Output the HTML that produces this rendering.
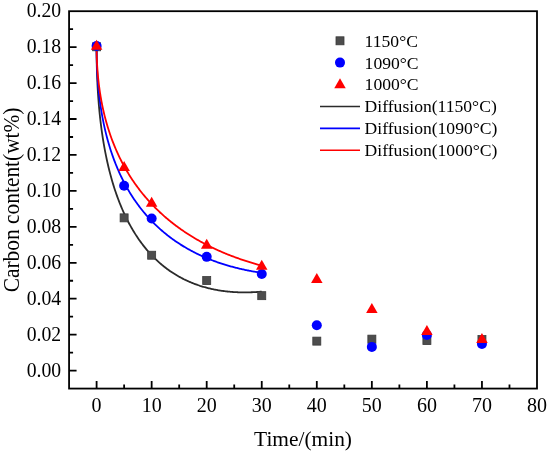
<!DOCTYPE html>
<html><head><meta charset="utf-8"><style>
html,body{margin:0;padding:0;background:#fff;}
svg{display:block;}
text{font-family:"Liberation Serif","Times New Roman",serif;fill:#000;}
</style></head><body>
<svg width="550" height="455" viewBox="0 0 550 455">
<rect width="550" height="455" fill="#fff"/>
<g fill="none" stroke-width="1.8" stroke-linejoin="round">
<path d="M96.60,48.45 L96.60,50.04 L96.61,51.63 L96.61,53.21 L96.63,54.79 L96.64,56.36 L96.66,57.92 L96.68,59.48 L96.70,61.04 L96.73,62.59 L96.76,64.13 L96.79,65.67 L96.83,67.21 L96.87,68.74 L96.91,70.26 L96.96,71.78 L97.00,73.29 L97.06,74.80 L97.11,76.30 L97.17,77.80 L97.23,79.29 L97.30,80.78 L97.37,82.26 L97.44,83.74 L97.51,85.21 L97.59,86.68 L97.67,88.14 L97.75,89.59 L97.84,91.04 L97.93,92.49 L98.02,93.93 L98.12,95.37 L98.22,96.80 L98.32,98.22 L98.43,99.64 L98.54,101.05 L98.65,102.46 L98.76,103.87 L98.88,105.27 L99.01,106.66 L99.13,108.05 L99.26,109.43 L99.39,110.81 L99.52,112.18 L99.66,113.55 L99.80,114.91 L99.95,116.27 L100.09,117.62 L100.24,118.97 L100.40,120.31 L100.55,121.64 L100.71,122.98 L100.88,124.30 L101.04,125.62 L101.21,126.94 L101.38,128.25 L101.56,129.55 L101.74,130.85 L101.92,132.15 L102.10,133.44 L102.91,138.74 L103.71,143.62 L104.51,148.17 L105.31,152.43 L106.12,156.44 L106.92,160.22 L107.72,163.81 L108.52,167.23 L109.33,170.49 L110.13,173.61 L110.93,176.59 L111.73,179.46 L112.53,182.22 L113.34,184.88 L114.14,187.44 L114.94,189.92 L115.74,192.31 L116.55,194.63 L117.35,196.87 L118.15,199.04 L118.95,201.16 L119.75,203.21 L120.56,205.20 L121.36,207.13 L122.16,209.02 L122.96,210.85 L123.77,212.64 L124.57,214.38 L125.37,216.08 L126.17,217.74 L126.97,219.35 L127.78,220.93 L128.58,222.47 L129.38,223.97 L130.18,225.44 L130.99,226.88 L131.79,228.29 L132.59,229.66 L133.39,231.00 L134.19,232.32 L135.00,233.61 L135.80,234.87 L136.60,236.10 L137.40,237.31 L138.21,238.49 L139.01,239.65 L139.81,240.79 L140.61,241.90 L141.41,242.99 L142.22,244.07 L143.02,245.11 L143.82,246.14 L144.62,247.15 L145.43,248.14 L146.23,249.11 L147.03,250.06 L147.83,251.00 L148.63,251.91 L149.44,252.81 L150.24,253.70 L151.04,254.56 L151.84,255.41 L152.65,256.25 L153.45,257.07 L154.25,257.87 L155.05,258.66 L155.85,259.43 L156.66,260.20 L157.46,260.94 L158.26,261.68 L159.06,262.40 L159.87,263.10 L160.67,263.80 L161.47,264.48 L162.27,265.15 L163.07,265.80 L163.88,266.45 L164.68,267.08 L165.48,267.70 L166.28,268.31 L167.09,268.91 L167.89,269.50 L168.69,270.08 L169.49,270.65 L170.30,271.21 L171.10,271.75 L171.90,272.29 L172.70,272.82 L173.50,273.33 L174.31,273.84 L175.11,274.34 L175.91,274.83 L176.71,275.31 L177.52,275.78 L178.32,276.24 L179.12,276.69 L179.92,277.14 L180.72,277.57 L181.53,278.00 L182.33,278.42 L183.13,278.83 L183.93,279.24 L184.74,279.63 L185.54,280.02 L186.34,280.40 L187.14,280.77 L187.94,281.14 L188.75,281.50 L189.55,281.85 L190.35,282.19 L191.15,282.52 L191.96,282.85 L192.76,283.18 L193.56,283.49 L194.36,283.80 L195.16,284.10 L195.97,284.40 L196.77,284.68 L197.57,284.97 L198.37,285.24 L199.18,285.51 L199.98,285.78 L200.78,286.03 L201.58,286.28 L202.38,286.53 L203.19,286.77 L203.99,287.00 L204.79,287.23 L205.59,287.45 L206.40,287.67 L207.20,287.88 L208.00,288.08 L208.80,288.28 L209.60,288.48 L210.41,288.67 L211.21,288.85 L212.01,289.03 L212.81,289.20 L213.62,289.37 L214.42,289.53 L215.22,289.69 L216.02,289.84 L216.82,289.99 L217.63,290.13 L218.43,290.27 L219.23,290.40 L220.03,290.53 L220.84,290.66 L221.64,290.78 L222.44,290.89 L223.24,291.00 L224.04,291.11 L224.85,291.21 L225.65,291.30 L226.45,291.40 L227.25,291.48 L228.06,291.57 L228.86,291.65 L229.66,291.72 L230.46,291.79 L231.27,291.86 L232.07,291.92 L232.87,291.98 L233.67,292.03 L234.47,292.08 L235.28,292.13 L236.08,292.17 L236.88,292.21 L237.68,292.24 L238.49,292.28 L239.29,292.30 L240.09,292.33 L240.89,292.34 L241.69,292.36 L242.50,292.37 L243.30,292.38 L244.10,292.39 L244.90,292.39 L245.71,292.38 L246.51,292.38 L247.31,292.37 L248.11,292.36 L248.91,292.34 L249.72,292.32 L250.52,292.30 L251.32,292.27 L252.12,292.24 L252.93,292.20 L253.73,292.17 L254.53,292.13 L255.33,292.09 L256.13,292.04 L256.94,291.99 L257.74,291.94 L258.54,291.88 L259.34,291.82 L260.15,291.76 L260.95,291.69 L261.75,291.62" stroke="#2b2b2b"/>
<path d="M96.60,47.79 L96.60,49.03 L96.61,50.27 L96.61,51.51 L96.63,52.74 L96.64,53.97 L96.66,55.20 L96.68,56.42 L96.70,57.64 L96.73,58.86 L96.76,60.07 L96.79,61.28 L96.83,62.48 L96.87,63.69 L96.91,64.89 L96.96,66.08 L97.00,67.27 L97.06,68.46 L97.11,69.65 L97.17,70.83 L97.23,72.01 L97.30,73.19 L97.37,74.36 L97.44,75.53 L97.51,76.69 L97.59,77.85 L97.67,79.01 L97.75,80.17 L97.84,81.32 L97.93,82.47 L98.02,83.61 L98.12,84.75 L98.22,85.89 L98.32,87.03 L98.43,88.16 L98.54,89.28 L98.65,90.41 L98.76,91.53 L98.88,92.65 L99.01,93.76 L99.13,94.87 L99.26,95.98 L99.39,97.08 L99.52,98.18 L99.66,99.28 L99.80,100.38 L99.95,101.47 L100.09,102.55 L100.24,103.64 L100.40,104.72 L100.55,105.79 L100.71,106.87 L100.88,107.94 L101.04,109.01 L101.21,110.07 L101.38,111.13 L101.56,112.18 L101.74,113.24 L101.92,114.29 L102.10,115.33 L102.91,119.64 L103.71,123.63 L104.51,127.36 L105.31,130.85 L106.12,134.15 L106.92,137.28 L107.72,140.25 L108.52,143.09 L109.33,145.81 L110.13,148.41 L110.93,150.92 L111.73,153.33 L112.53,155.65 L113.34,157.90 L114.14,160.07 L114.94,162.18 L115.74,164.22 L116.55,166.20 L117.35,168.12 L118.15,169.99 L118.95,171.81 L119.75,173.58 L120.56,175.30 L121.36,176.99 L122.16,178.63 L122.96,180.23 L123.77,181.80 L124.57,183.33 L125.37,184.83 L126.17,186.29 L126.97,187.72 L127.78,189.13 L128.58,190.50 L129.38,191.85 L130.18,193.16 L130.99,194.46 L131.79,195.73 L132.59,196.97 L133.39,198.19 L134.19,199.39 L135.00,200.56 L135.80,201.72 L136.60,202.85 L137.40,203.97 L138.21,205.06 L139.01,206.14 L139.81,207.20 L140.61,208.24 L141.41,209.26 L142.22,210.27 L143.02,211.26 L143.82,212.23 L144.62,213.19 L145.43,214.13 L146.23,215.06 L147.03,215.98 L147.83,216.88 L148.63,217.76 L149.44,218.64 L150.24,219.50 L151.04,220.34 L151.84,221.18 L152.65,222.00 L153.45,222.81 L154.25,223.61 L155.05,224.39 L155.85,225.17 L156.66,225.93 L157.46,226.69 L158.26,227.43 L159.06,228.16 L159.87,228.89 L160.67,229.60 L161.47,230.30 L162.27,231.00 L163.07,231.68 L163.88,232.35 L164.68,233.02 L165.48,233.68 L166.28,234.32 L167.09,234.96 L167.89,235.59 L168.69,236.21 L169.49,236.83 L170.30,237.43 L171.10,238.03 L171.90,238.62 L172.70,239.20 L173.50,239.78 L174.31,240.34 L175.11,240.90 L175.91,241.46 L176.71,242.00 L177.52,242.54 L178.32,243.07 L179.12,243.60 L179.92,244.11 L180.72,244.63 L181.53,245.13 L182.33,245.63 L183.13,246.12 L183.93,246.61 L184.74,247.09 L185.54,247.56 L186.34,248.03 L187.14,248.49 L187.94,248.94 L188.75,249.39 L189.55,249.84 L190.35,250.28 L191.15,250.71 L191.96,251.14 L192.76,251.56 L193.56,251.97 L194.36,252.39 L195.16,252.79 L195.97,253.19 L196.77,253.59 L197.57,253.98 L198.37,254.37 L199.18,254.75 L199.98,255.12 L200.78,255.50 L201.58,255.86 L202.38,256.22 L203.19,256.58 L203.99,256.93 L204.79,257.28 L205.59,257.63 L206.40,257.97 L207.20,258.30 L208.00,258.63 L208.80,258.96 L209.60,259.28 L210.41,259.60 L211.21,259.91 L212.01,260.22 L212.81,260.53 L213.62,260.83 L214.42,261.13 L215.22,261.42 L216.02,261.71 L216.82,262.00 L217.63,262.28 L218.43,262.56 L219.23,262.83 L220.03,263.10 L220.84,263.37 L221.64,263.63 L222.44,263.89 L223.24,264.15 L224.04,264.40 L224.85,264.65 L225.65,264.90 L226.45,265.14 L227.25,265.38 L228.06,265.62 L228.86,265.85 L229.66,266.08 L230.46,266.30 L231.27,266.53 L232.07,266.74 L232.87,266.96 L233.67,267.17 L234.47,267.38 L235.28,267.59 L236.08,267.79 L236.88,267.99 L237.68,268.19 L238.49,268.39 L239.29,268.58 L240.09,268.77 L240.89,268.95 L241.69,269.14 L242.50,269.32 L243.30,269.49 L244.10,269.67 L244.90,269.84 L245.71,270.01 L246.51,270.17 L247.31,270.34 L248.11,270.50 L248.91,270.65 L249.72,270.81 L250.52,270.96 L251.32,271.11 L252.12,271.26 L252.93,271.40 L253.73,271.54 L254.53,271.68 L255.33,271.82 L256.13,271.95 L256.94,272.09 L257.74,272.21 L258.54,272.34 L259.34,272.47 L260.15,272.59 L260.95,272.71 L261.75,272.82" stroke="#0000ff"/>
<path d="M96.60,45.82 L96.60,46.88 L96.61,47.94 L96.61,49.00 L96.63,50.05 L96.64,51.10 L96.66,52.15 L96.68,53.20 L96.70,54.24 L96.73,55.29 L96.76,56.33 L96.79,57.37 L96.83,58.40 L96.87,59.44 L96.91,60.47 L96.96,61.50 L97.00,62.53 L97.06,63.55 L97.11,64.58 L97.17,65.60 L97.23,66.62 L97.30,67.63 L97.37,68.65 L97.44,69.66 L97.51,70.67 L97.59,71.68 L97.67,72.68 L97.75,73.69 L97.84,74.69 L97.93,75.69 L98.02,76.68 L98.12,77.68 L98.22,78.67 L98.32,79.66 L98.43,80.65 L98.54,81.63 L98.65,82.61 L98.76,83.59 L98.88,84.57 L99.01,85.55 L99.13,86.52 L99.26,87.49 L99.39,88.46 L99.52,89.43 L99.66,90.40 L99.80,91.36 L99.95,92.32 L100.09,93.28 L100.24,94.23 L100.40,95.19 L100.55,96.14 L100.71,97.09 L100.88,98.03 L101.04,98.98 L101.21,99.92 L101.38,100.86 L101.56,101.80 L101.74,102.73 L101.92,103.67 L102.10,104.60 L102.91,108.44 L103.71,112.01 L104.51,115.34 L105.31,118.49 L106.12,121.47 L106.92,124.29 L107.72,126.99 L108.52,129.58 L109.33,132.05 L110.13,134.43 L110.93,136.73 L111.73,138.94 L112.53,141.09 L113.34,143.16 L114.14,145.17 L114.94,147.12 L115.74,149.02 L116.55,150.86 L117.35,152.65 L118.15,154.40 L118.95,156.11 L119.75,157.77 L120.56,159.40 L121.36,160.99 L122.16,162.54 L122.96,164.06 L123.77,165.55 L124.57,167.01 L125.37,168.44 L126.17,169.84 L126.97,171.21 L127.78,172.55 L128.58,173.88 L129.38,175.17 L130.18,176.45 L130.99,177.70 L131.79,178.93 L132.59,180.14 L133.39,181.33 L134.19,182.49 L135.00,183.65 L135.80,184.78 L136.60,185.89 L137.40,186.99 L138.21,188.07 L139.01,189.13 L139.81,190.18 L140.61,191.21 L141.41,192.23 L142.22,193.23 L143.02,194.22 L143.82,195.19 L144.62,196.16 L145.43,197.10 L146.23,198.04 L147.03,198.96 L147.83,199.87 L148.63,200.77 L149.44,201.66 L150.24,202.53 L151.04,203.39 L151.84,204.25 L152.65,205.09 L153.45,205.92 L154.25,206.74 L155.05,207.55 L155.85,208.36 L156.66,209.15 L157.46,209.93 L158.26,210.70 L159.06,211.47 L159.87,212.22 L160.67,212.97 L161.47,213.70 L162.27,214.43 L163.07,215.15 L163.88,215.87 L164.68,216.57 L165.48,217.27 L166.28,217.96 L167.09,218.64 L167.89,219.31 L168.69,219.98 L169.49,220.64 L170.30,221.29 L171.10,221.93 L171.90,222.57 L172.70,223.20 L173.50,223.83 L174.31,224.45 L175.11,225.06 L175.91,225.66 L176.71,226.26 L177.52,226.85 L178.32,227.44 L179.12,228.02 L179.92,228.59 L180.72,229.16 L181.53,229.73 L182.33,230.28 L183.13,230.83 L183.93,231.38 L184.74,231.92 L185.54,232.46 L186.34,232.99 L187.14,233.51 L187.94,234.03 L188.75,234.54 L189.55,235.05 L190.35,235.56 L191.15,236.06 L191.96,236.55 L192.76,237.04 L193.56,237.52 L194.36,238.00 L195.16,238.48 L195.97,238.95 L196.77,239.42 L197.57,239.88 L198.37,240.34 L199.18,240.79 L199.98,241.24 L200.78,241.68 L201.58,242.12 L202.38,242.56 L203.19,242.99 L203.99,243.42 L204.79,243.84 L205.59,244.26 L206.40,244.68 L207.20,245.09 L208.00,245.50 L208.80,245.90 L209.60,246.30 L210.41,246.70 L211.21,247.09 L212.01,247.48 L212.81,247.86 L213.62,248.25 L214.42,248.62 L215.22,249.00 L216.02,249.37 L216.82,249.74 L217.63,250.10 L218.43,250.46 L219.23,250.82 L220.03,251.17 L220.84,251.53 L221.64,251.87 L222.44,252.22 L223.24,252.56 L224.04,252.90 L224.85,253.23 L225.65,253.56 L226.45,253.89 L227.25,254.22 L228.06,254.54 L228.86,254.86 L229.66,255.18 L230.46,255.49 L231.27,255.80 L232.07,256.11 L232.87,256.41 L233.67,256.71 L234.47,257.01 L235.28,257.31 L236.08,257.60 L236.88,257.89 L237.68,258.18 L238.49,258.47 L239.29,258.75 L240.09,259.03 L240.89,259.30 L241.69,259.58 L242.50,259.85 L243.30,260.12 L244.10,260.39 L244.90,260.65 L245.71,260.91 L246.51,261.17 L247.31,261.43 L248.11,261.68 L248.91,261.93 L249.72,262.18 L250.52,262.43 L251.32,262.67 L252.12,262.91 L252.93,263.15 L253.73,263.39 L254.53,263.63 L255.33,263.86 L256.13,264.09 L256.94,264.32 L257.74,264.54 L258.54,264.77 L259.34,264.99 L260.15,265.21 L260.95,265.42 L261.75,265.64" stroke="#ff0000"/>
</g>
<rect x="92.60" y="42.78" width="8" height="8" fill="#4d4d4d" stroke="#3a3a3a" stroke-width="0.8"/>
<rect x="120.12" y="213.86" width="8" height="8" fill="#4d4d4d" stroke="#3a3a3a" stroke-width="0.8"/>
<rect x="147.65" y="251.23" width="8" height="8" fill="#4d4d4d" stroke="#3a3a3a" stroke-width="0.8"/>
<rect x="202.70" y="276.57" width="8" height="8" fill="#4d4d4d" stroke="#3a3a3a" stroke-width="0.8"/>
<rect x="257.75" y="291.67" width="8" height="8" fill="#4d4d4d" stroke="#3a3a3a" stroke-width="0.8"/>
<rect x="312.80" y="337.13" width="8" height="8" fill="#4d4d4d" stroke="#3a3a3a" stroke-width="0.8"/>
<rect x="367.85" y="335.15" width="8" height="8" fill="#4d4d4d" stroke="#3a3a3a" stroke-width="0.8"/>
<rect x="422.90" y="336.59" width="8" height="8" fill="#4d4d4d" stroke="#3a3a3a" stroke-width="0.8"/>
<rect x="477.95" y="335.51" width="8" height="8" fill="#4d4d4d" stroke="#3a3a3a" stroke-width="0.8"/>
<circle cx="96.60" cy="46.06" r="5" fill="#0000ff"/>
<circle cx="124.12" cy="185.69" r="5" fill="#0000ff"/>
<circle cx="151.65" cy="218.57" r="5" fill="#0000ff"/>
<circle cx="206.70" cy="256.85" r="5" fill="#0000ff"/>
<circle cx="261.75" cy="273.92" r="5" fill="#0000ff"/>
<circle cx="316.80" cy="325.32" r="5" fill="#0000ff"/>
<circle cx="371.85" cy="346.88" r="5" fill="#0000ff"/>
<circle cx="426.90" cy="335.02" r="5" fill="#0000ff"/>
<circle cx="481.95" cy="344.00" r="5" fill="#0000ff"/>
<polygon points="90.85,49.80 102.35,49.80 96.60,39.80" fill="#ff0000"/>
<polygon points="118.38,170.92 129.88,170.92 124.12,160.92" fill="#ff0000"/>
<polygon points="145.90,206.68 157.40,206.68 151.65,196.68" fill="#ff0000"/>
<polygon points="200.95,248.73 212.45,248.73 206.70,238.73" fill="#ff0000"/>
<polygon points="256.00,269.76 267.50,269.76 261.75,259.76" fill="#ff0000"/>
<polygon points="311.05,283.05 322.55,283.05 316.80,273.05" fill="#ff0000"/>
<polygon points="366.10,312.88 377.60,312.88 371.85,302.88" fill="#ff0000"/>
<polygon points="421.15,334.99 432.65,334.99 426.90,324.99" fill="#ff0000"/>
<polygon points="476.20,342.89 487.70,342.89 481.95,332.89" fill="#ff0000"/>
<rect x="69.07" y="11.20" width="467.93" height="377.37" fill="none" stroke="#000" stroke-width="1.8"/>
<path d="M69.07,370.60h7.5 M69.07,334.66h7.5 M69.07,298.72h7.5 M69.07,262.78h7.5 M69.07,226.84h7.5 M69.07,190.90h7.5 M69.07,154.96h7.5 M69.07,119.02h7.5 M69.07,83.08h7.5 M69.07,47.14h7.5 M69.07,352.63h4 M69.07,316.69h4 M69.07,280.75h4 M69.07,244.81h4 M69.07,208.87h4 M69.07,172.93h4 M69.07,136.99h4 M69.07,101.05h4 M69.07,65.11h4 M69.07,29.17h4 M96.60,388.57v-7.5 M151.65,388.57v-7.5 M206.70,388.57v-7.5 M261.75,388.57v-7.5 M316.80,388.57v-7.5 M371.85,388.57v-7.5 M426.90,388.57v-7.5 M481.95,388.57v-7.5 M124.12,388.57v-4 M179.18,388.57v-4 M234.22,388.57v-4 M289.27,388.57v-4 M344.32,388.57v-4 M399.38,388.57v-4 M454.42,388.57v-4 M509.48,388.57v-4" stroke="#000" stroke-width="1.8" fill="none"/>
<text transform="translate(61.2,376.60) scale(0.985,1)" font-size="20" text-anchor="end">0.00</text>
<text transform="translate(61.2,340.66) scale(0.985,1)" font-size="20" text-anchor="end">0.02</text>
<text transform="translate(61.2,304.72) scale(0.985,1)" font-size="20" text-anchor="end">0.04</text>
<text transform="translate(61.2,268.78) scale(0.985,1)" font-size="20" text-anchor="end">0.06</text>
<text transform="translate(61.2,232.84) scale(0.985,1)" font-size="20" text-anchor="end">0.08</text>
<text transform="translate(61.2,196.90) scale(0.985,1)" font-size="20" text-anchor="end">0.10</text>
<text transform="translate(61.2,160.96) scale(0.985,1)" font-size="20" text-anchor="end">0.12</text>
<text transform="translate(61.2,125.02) scale(0.985,1)" font-size="20" text-anchor="end">0.14</text>
<text transform="translate(61.2,89.08) scale(0.985,1)" font-size="20" text-anchor="end">0.16</text>
<text transform="translate(61.2,53.14) scale(0.985,1)" font-size="20" text-anchor="end">0.18</text>
<text transform="translate(61.2,17.20) scale(0.985,1)" font-size="20" text-anchor="end">0.20</text>
<text x="96.60" y="411.8" font-size="20" text-anchor="middle">0</text>
<text x="151.65" y="411.8" font-size="20" text-anchor="middle">10</text>
<text x="206.70" y="411.8" font-size="20" text-anchor="middle">20</text>
<text x="261.75" y="411.8" font-size="20" text-anchor="middle">30</text>
<text x="316.80" y="411.8" font-size="20" text-anchor="middle">40</text>
<text x="371.85" y="411.8" font-size="20" text-anchor="middle">50</text>
<text x="426.90" y="411.8" font-size="20" text-anchor="middle">60</text>
<text x="481.95" y="411.8" font-size="20" text-anchor="middle">70</text>
<text x="537.00" y="411.8" font-size="20" text-anchor="middle">80</text>
<text x="303.04" y="445.6" font-size="21.4" text-anchor="middle">Time/(min)</text>
<text transform="translate(19.2,199.89) rotate(-90) scale(1,1.05)" font-size="21.4" text-anchor="middle">Carbon content(wt%)</text>
<text transform="translate(364.6,46.60) scale(1.0,1)" font-size="17.6">1150°C</text>
<text transform="translate(364.6,68.50) scale(1.0,1)" font-size="17.6">1090°C</text>
<text transform="translate(364.6,90.40) scale(1.0,1)" font-size="17.6">1000°C</text>
<text transform="translate(364.6,112.30) scale(1.0,1)" font-size="17.6">Diffusion(1150°C)</text>
<text transform="translate(364.6,134.20) scale(1.0,1)" font-size="17.6">Diffusion(1090°C)</text>
<text transform="translate(364.6,156.10) scale(1.0,1)" font-size="17.6">Diffusion(1000°C)</text>
<rect x="336.00" y="36.80" width="8" height="8" fill="#4d4d4d" stroke="#3a3a3a" stroke-width="0.8"/>
<circle cx="340.00" cy="62.60" r="5" fill="#0000ff"/>
<polygon points="334.25,88.25 345.75,88.25 340.00,78.25" fill="#ff0000"/>
<path d="M320,106.45H360" stroke="#2b2b2b" stroke-width="1.6"/>
<path d="M320,128.35H360" stroke="#0000ff" stroke-width="1.6"/>
<path d="M320,150.25H360" stroke="#ff0000" stroke-width="1.6"/>
</svg></body></html>
